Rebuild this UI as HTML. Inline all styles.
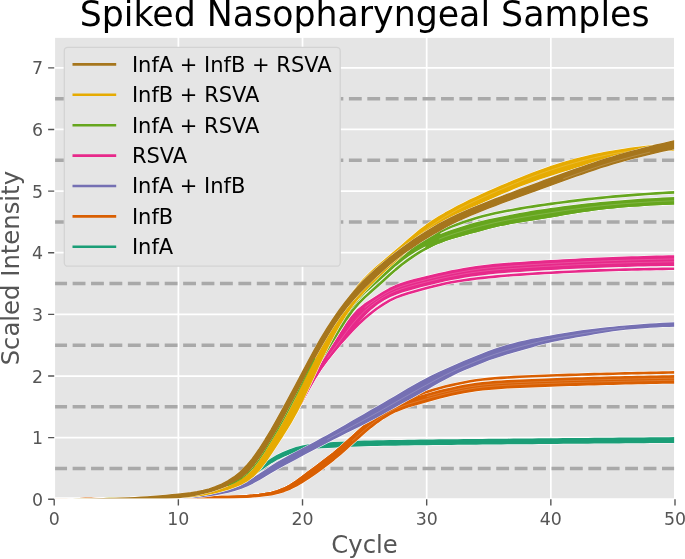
<!DOCTYPE html>
<html lang="en"><head><meta charset="utf-8"><title>Spiked Nasopharyngeal Samples</title>
<style>html,body{margin:0;padding:0;background:#fff}svg{display:block}</style></head>
<body>
<svg width="685" height="559" viewBox="0 0 685 559" font-family="'DejaVu Sans', 'Liberation Sans', sans-serif">
<rect width="685" height="559" fill="#fff"/>
<rect x="54.2" y="37.0" width="620.8" height="462.3" fill="#e5e5e5"/>
<defs><clipPath id="ax"><rect x="54.2" y="37.0" width="620.8" height="462.3"/></clipPath></defs>
<path d="M54.20,37.0V499.3M178.36,37.0V499.3M302.52,37.0V499.3M426.68,37.0V499.3M550.84,37.0V499.3M675.00,37.0V499.3M54.2,499.30H675.0M54.2,437.66H675.0M54.2,376.02H675.0M54.2,314.38H675.0M54.2,252.74H675.0M54.2,191.10H675.0M54.2,129.46H675.0M54.2,67.82H675.0" stroke="#fff" stroke-width="1.74" fill="none" clip-path="url(#ax)"/>
<path d="M54.2,468.48H675.0M54.2,406.84H675.0M54.2,345.20H675.0M54.2,283.56H675.0M54.2,221.92H675.0M54.2,160.28H675.0M54.2,98.64H675.0" stroke="#a9a9a9" stroke-width="3.475" stroke-dasharray="12.858 5.560" fill="none" clip-path="url(#ax)"/>
<g clip-path="url(#ax)" fill="none" stroke-linejoin="round">
<g stroke="#fff" stroke-width="3.5" fill="none">
<polygon fill="#fff" points="54.20,500.53 60.41,500.49 66.62,500.40 72.82,500.26 79.03,500.09 85.24,499.89 91.45,499.69 97.66,499.48 103.86,499.29 110.07,499.12 116.28,498.95 122.49,498.80 128.70,498.64 134.90,498.48 141.11,498.28 147.32,498.06 153.53,497.79 159.74,497.49 165.94,497.15 172.15,496.76 178.36,496.30 184.57,495.74 190.78,495.07 196.98,494.26 203.19,493.30 209.40,492.17 215.61,490.82 221.82,489.22 228.02,487.30 234.23,484.98 240.44,482.17 246.65,478.78 252.86,474.83 259.06,470.45 265.27,465.96 271.48,461.76 277.69,458.20 283.90,455.32 290.10,452.98 296.31,451.03 302.52,449.45 308.73,448.31 314.94,447.56 321.14,447.07 327.35,446.71 333.56,446.36 339.77,446.01 345.98,445.66 352.18,445.36 358.39,445.12 364.60,444.94 370.81,444.79 377.02,444.66 383.22,444.54 389.43,444.44 395.64,444.34 401.85,444.25 408.06,444.15 414.26,444.06 420.47,443.97 426.68,443.88 432.89,443.81 439.10,443.73 445.30,443.66 451.51,443.60 457.72,443.53 463.93,443.47 470.14,443.41 476.34,443.35 482.55,443.29 488.76,443.23 494.97,443.18 501.18,443.12 507.38,443.07 513.59,443.01 519.80,442.96 526.01,442.90 532.22,442.85 538.42,442.79 544.63,442.74 550.84,442.68 557.05,442.63 563.26,442.57 569.46,442.51 575.67,442.46 581.88,442.40 588.09,442.35 594.30,442.29 600.50,442.24 606.71,442.18 612.92,442.13 619.13,442.08 625.34,442.02 631.54,441.97 637.75,441.92 643.96,441.86 650.17,441.81 656.38,441.76 662.58,441.71 668.79,441.65 675.00,441.60 675.00,438.40 668.79,438.46 662.58,438.51 656.38,438.57 650.17,438.62 643.96,438.68 637.75,438.73 631.54,438.79 625.34,438.84 619.13,438.90 612.92,438.96 606.71,439.01 600.50,439.07 594.30,439.13 588.09,439.19 581.88,439.25 575.67,439.30 569.46,439.36 563.26,439.42 557.05,439.48 550.84,439.54 544.63,439.60 538.42,439.66 532.22,439.72 526.01,439.77 519.80,439.83 513.59,439.89 507.38,439.95 501.18,440.00 494.97,440.06 488.76,440.12 482.55,440.18 476.34,440.24 470.14,440.30 463.93,440.37 457.72,440.44 451.51,440.50 445.30,440.57 439.10,440.65 432.89,440.73 426.68,440.81 420.47,440.90 414.26,440.99 408.06,441.09 401.85,441.19 395.64,441.29 389.43,441.40 383.22,441.51 377.02,441.63 370.81,441.76 364.60,441.92 358.39,442.12 352.18,442.37 345.98,442.68 339.77,443.05 333.56,443.42 327.35,443.79 321.14,444.18 314.94,444.69 308.73,445.48 302.52,446.69 296.31,448.35 290.10,450.41 283.90,452.88 277.69,455.91 271.48,459.68 265.27,464.11 259.06,468.85 252.86,473.48 246.65,477.65 240.44,481.21 234.23,484.18 228.02,486.63 221.82,488.66 215.61,490.35 209.40,491.77 203.19,492.97 196.98,493.98 190.78,494.83 184.57,495.54 178.36,496.13 172.15,496.62 165.94,497.03 159.74,497.39 153.53,497.71 147.32,497.99 141.11,498.23 134.90,498.43 128.70,498.60 122.49,498.77 116.28,498.92 110.07,499.09 103.86,499.27 97.66,499.47 91.45,499.67 85.24,499.88 79.03,500.08 72.82,500.26 66.62,500.40 60.41,500.49 54.20,500.53"/>
</g>
<g stroke="#1b9e77" stroke-width="2.61" fill="none">
<polygon fill="#1b9e77" points="54.20,500.53 60.41,500.49 66.62,500.40 72.82,500.26 79.03,500.09 85.24,499.89 91.45,499.69 97.66,499.48 103.86,499.29 110.07,499.12 116.28,498.95 122.49,498.80 128.70,498.64 134.90,498.48 141.11,498.28 147.32,498.06 153.53,497.79 159.74,497.49 165.94,497.15 172.15,496.76 178.36,496.30 184.57,495.74 190.78,495.07 196.98,494.26 203.19,493.30 209.40,492.17 215.61,490.82 221.82,489.22 228.02,487.30 234.23,484.98 240.44,482.17 246.65,478.78 252.86,474.83 259.06,470.45 265.27,465.96 271.48,461.76 277.69,458.20 283.90,455.32 290.10,452.98 296.31,451.03 302.52,449.45 308.73,448.31 314.94,447.56 321.14,447.07 327.35,446.71 333.56,446.36 339.77,446.01 345.98,445.66 352.18,445.36 358.39,445.12 364.60,444.94 370.81,444.79 377.02,444.66 383.22,444.54 389.43,444.44 395.64,444.34 401.85,444.25 408.06,444.15 414.26,444.06 420.47,443.97 426.68,443.88 432.89,443.81 439.10,443.73 445.30,443.66 451.51,443.60 457.72,443.53 463.93,443.47 470.14,443.41 476.34,443.35 482.55,443.29 488.76,443.23 494.97,443.18 501.18,443.12 507.38,443.07 513.59,443.01 519.80,442.96 526.01,442.90 532.22,442.85 538.42,442.79 544.63,442.74 550.84,442.68 557.05,442.63 563.26,442.57 569.46,442.51 575.67,442.46 581.88,442.40 588.09,442.35 594.30,442.29 600.50,442.24 606.71,442.18 612.92,442.13 619.13,442.08 625.34,442.02 631.54,441.97 637.75,441.92 643.96,441.86 650.17,441.81 656.38,441.76 662.58,441.71 668.79,441.65 675.00,441.60 675.00,438.40 668.79,438.46 662.58,438.51 656.38,438.57 650.17,438.62 643.96,438.68 637.75,438.73 631.54,438.79 625.34,438.84 619.13,438.90 612.92,438.96 606.71,439.01 600.50,439.07 594.30,439.13 588.09,439.19 581.88,439.25 575.67,439.30 569.46,439.36 563.26,439.42 557.05,439.48 550.84,439.54 544.63,439.60 538.42,439.66 532.22,439.72 526.01,439.77 519.80,439.83 513.59,439.89 507.38,439.95 501.18,440.00 494.97,440.06 488.76,440.12 482.55,440.18 476.34,440.24 470.14,440.30 463.93,440.37 457.72,440.44 451.51,440.50 445.30,440.57 439.10,440.65 432.89,440.73 426.68,440.81 420.47,440.90 414.26,440.99 408.06,441.09 401.85,441.19 395.64,441.29 389.43,441.40 383.22,441.51 377.02,441.63 370.81,441.76 364.60,441.92 358.39,442.12 352.18,442.37 345.98,442.68 339.77,443.05 333.56,443.42 327.35,443.79 321.14,444.18 314.94,444.69 308.73,445.48 302.52,446.69 296.31,448.35 290.10,450.41 283.90,452.88 277.69,455.91 271.48,459.68 265.27,464.11 259.06,468.85 252.86,473.48 246.65,477.65 240.44,481.21 234.23,484.18 228.02,486.63 221.82,488.66 215.61,490.35 209.40,491.77 203.19,492.97 196.98,493.98 190.78,494.83 184.57,495.54 178.36,496.13 172.15,496.62 165.94,497.03 159.74,497.39 153.53,497.71 147.32,497.99 141.11,498.23 134.90,498.43 128.70,498.60 122.49,498.77 116.28,498.92 110.07,499.09 103.86,499.27 97.66,499.47 91.45,499.67 85.24,499.88 79.03,500.08 72.82,500.26 66.62,500.40 60.41,500.49 54.20,500.53"/>
</g>
<g stroke="#fff" stroke-width="3.5" fill="none">
<polyline points="54.20,499.29 60.41,499.28 66.62,499.27 72.82,499.24 79.03,499.20 85.24,499.16 91.45,499.11 97.66,499.05 103.86,498.99 110.07,498.92 116.28,498.84 122.49,498.75 128.70,498.65 134.90,498.51 141.11,498.35 147.32,498.16 153.53,497.95 159.74,497.76 165.94,497.59 172.15,497.46 178.36,497.37 184.57,497.31 190.78,497.28 196.98,497.26 203.19,497.24 209.40,497.22 215.61,497.20 221.82,497.15 228.02,497.06 234.23,496.89 240.44,496.60 246.65,496.19 252.86,495.66 259.06,494.99 265.27,494.13 271.48,492.95 277.69,491.25 283.90,488.84 290.10,485.58 296.31,481.55 302.52,477.04 308.73,472.39 314.94,467.76 321.14,463.13 327.35,458.38 333.56,453.43 339.77,448.21 345.98,442.75 352.18,437.13 358.39,431.51 364.60,426.05 370.81,420.89 377.02,416.11 383.22,411.76 389.43,407.87 395.64,404.46 401.85,401.47 408.06,398.79 414.26,396.31 420.47,394.00 426.68,391.88 432.89,389.96 439.10,388.21 445.30,386.60 451.51,385.11 457.72,383.72 463.93,382.45 470.14,381.30 476.34,380.31 482.55,379.49 488.76,378.83 494.97,378.30 501.18,377.86 507.38,377.47 513.59,377.13 519.80,376.81 526.01,376.53 532.22,376.26 538.42,376.01 544.63,375.76 550.84,375.53 557.05,375.31 563.26,375.09 569.46,374.89 575.67,374.70 581.88,374.51 588.09,374.33 594.30,374.16 600.50,374.00 606.71,373.83 612.92,373.68 619.13,373.52 625.34,373.38 631.54,373.23 637.75,373.09 643.96,372.96 650.17,372.83 656.38,372.71 662.58,372.59 668.79,372.48 675.00,372.37"/>
<polygon fill="#fff" points="54.20,499.29 60.41,499.28 66.62,499.27 72.82,499.24 79.03,499.21 85.24,499.17 91.45,499.13 97.66,499.07 103.86,499.02 110.07,498.95 116.28,498.88 122.49,498.81 128.70,498.71 134.90,498.59 141.11,498.43 147.32,498.26 153.53,498.07 159.74,497.89 165.94,497.73 172.15,497.62 178.36,497.54 184.57,497.51 190.78,497.50 196.98,497.49 203.19,497.50 209.40,497.50 215.61,497.50 221.82,497.48 228.02,497.43 234.23,497.30 240.44,497.07 246.65,496.74 252.86,496.31 259.06,495.77 265.27,495.07 271.48,494.11 277.69,492.77 283.90,490.90 290.10,488.43 296.31,485.34 302.52,481.72 308.73,477.71 314.94,473.43 321.14,468.96 327.35,464.28 333.56,459.36 339.77,454.16 345.98,448.70 352.18,443.08 358.39,437.46 364.60,431.99 370.81,426.84 377.02,422.08 383.22,417.79 389.43,414.06 395.64,410.95 401.85,408.43 408.06,406.33 414.26,404.45 420.47,402.64 426.68,400.89 432.89,399.19 439.10,397.57 445.30,396.04 451.51,394.60 457.72,393.28 463.93,392.06 470.14,390.97 476.34,390.03 482.55,389.25 488.76,388.62 494.97,388.11 501.18,387.69 507.38,387.31 513.59,386.98 519.80,386.68 526.01,386.41 532.22,386.15 538.42,385.90 544.63,385.66 550.84,385.43 557.05,385.21 563.26,385.00 569.46,384.81 575.67,384.62 581.88,384.43 588.09,384.26 594.30,384.09 600.50,383.93 606.71,383.77 612.92,383.62 619.13,383.47 625.34,383.32 631.54,383.18 637.75,383.04 643.96,382.91 650.17,382.78 656.38,382.66 662.58,382.54 668.79,382.43 675.00,382.32 675.00,376.37 668.79,376.48 662.58,376.60 656.38,376.71 650.17,376.84 643.96,376.96 637.75,377.09 631.54,377.23 625.34,377.37 619.13,377.52 612.92,377.67 606.71,377.82 600.50,377.98 594.30,378.14 588.09,378.31 581.88,378.49 575.67,378.67 569.46,378.86 563.26,379.06 557.05,379.26 550.84,379.48 544.63,379.71 538.42,379.95 532.22,380.20 526.01,380.46 519.80,380.73 513.59,381.03 507.38,381.37 501.18,381.74 494.97,382.17 488.76,382.68 482.55,383.30 476.34,384.08 470.14,385.02 463.93,386.12 457.72,387.33 451.51,388.66 445.30,390.09 439.10,391.62 432.89,393.24 426.68,394.94 420.47,396.70 414.26,398.50 408.06,400.38 401.85,402.48 395.64,405.00 389.43,408.11 383.22,411.85 377.02,416.13 370.81,420.89 364.60,426.05 358.39,431.51 352.18,437.13 345.98,442.75 339.77,448.21 333.56,453.43 327.35,458.38 321.14,463.13 314.94,467.76 308.73,472.39 302.52,477.04 296.31,481.55 290.10,485.58 283.90,488.84 277.69,491.25 271.48,492.95 265.27,494.13 259.06,494.99 252.86,495.66 246.65,496.19 240.44,496.60 234.23,496.89 228.02,497.06 221.82,497.15 215.61,497.20 209.40,497.22 203.19,497.24 196.98,497.26 190.78,497.28 184.57,497.31 178.36,497.37 172.15,497.46 165.94,497.59 159.74,497.76 153.53,497.95 147.32,498.16 141.11,498.35 134.90,498.51 128.70,498.65 122.49,498.75 116.28,498.84 110.07,498.92 103.86,498.99 97.66,499.05 91.45,499.11 85.24,499.16 79.03,499.20 72.82,499.24 66.62,499.27 60.41,499.28 54.20,499.29"/>
</g>
<g stroke="#d95f02" stroke-width="2.61" fill="none">
<polyline points="54.20,499.29 60.41,499.28 66.62,499.27 72.82,499.24 79.03,499.20 85.24,499.16 91.45,499.11 97.66,499.05 103.86,498.99 110.07,498.92 116.28,498.84 122.49,498.75 128.70,498.65 134.90,498.51 141.11,498.35 147.32,498.16 153.53,497.95 159.74,497.76 165.94,497.59 172.15,497.46 178.36,497.37 184.57,497.31 190.78,497.28 196.98,497.26 203.19,497.24 209.40,497.22 215.61,497.20 221.82,497.15 228.02,497.06 234.23,496.89 240.44,496.60 246.65,496.19 252.86,495.66 259.06,494.99 265.27,494.13 271.48,492.95 277.69,491.25 283.90,488.84 290.10,485.58 296.31,481.55 302.52,477.04 308.73,472.39 314.94,467.76 321.14,463.13 327.35,458.38 333.56,453.43 339.77,448.21 345.98,442.75 352.18,437.13 358.39,431.51 364.60,426.05 370.81,420.89 377.02,416.11 383.22,411.76 389.43,407.87 395.64,404.46 401.85,401.47 408.06,398.79 414.26,396.31 420.47,394.00 426.68,391.88 432.89,389.96 439.10,388.21 445.30,386.60 451.51,385.11 457.72,383.72 463.93,382.45 470.14,381.30 476.34,380.31 482.55,379.49 488.76,378.83 494.97,378.30 501.18,377.86 507.38,377.47 513.59,377.13 519.80,376.81 526.01,376.53 532.22,376.26 538.42,376.01 544.63,375.76 550.84,375.53 557.05,375.31 563.26,375.09 569.46,374.89 575.67,374.70 581.88,374.51 588.09,374.33 594.30,374.16 600.50,374.00 606.71,373.83 612.92,373.68 619.13,373.52 625.34,373.38 631.54,373.23 637.75,373.09 643.96,372.96 650.17,372.83 656.38,372.71 662.58,372.59 668.79,372.48 675.00,372.37"/>
<polygon fill="#d95f02" points="54.20,499.29 60.41,499.28 66.62,499.27 72.82,499.24 79.03,499.21 85.24,499.17 91.45,499.13 97.66,499.07 103.86,499.02 110.07,498.95 116.28,498.88 122.49,498.81 128.70,498.71 134.90,498.59 141.11,498.43 147.32,498.26 153.53,498.07 159.74,497.89 165.94,497.73 172.15,497.62 178.36,497.54 184.57,497.51 190.78,497.50 196.98,497.49 203.19,497.50 209.40,497.50 215.61,497.50 221.82,497.48 228.02,497.43 234.23,497.30 240.44,497.07 246.65,496.74 252.86,496.31 259.06,495.77 265.27,495.07 271.48,494.11 277.69,492.77 283.90,490.90 290.10,488.43 296.31,485.34 302.52,481.72 308.73,477.71 314.94,473.43 321.14,468.96 327.35,464.28 333.56,459.36 339.77,454.16 345.98,448.70 352.18,443.08 358.39,437.46 364.60,431.99 370.81,426.84 377.02,422.08 383.22,417.79 389.43,414.06 395.64,410.95 401.85,408.43 408.06,406.33 414.26,404.45 420.47,402.64 426.68,400.89 432.89,399.19 439.10,397.57 445.30,396.04 451.51,394.60 457.72,393.28 463.93,392.06 470.14,390.97 476.34,390.03 482.55,389.25 488.76,388.62 494.97,388.11 501.18,387.69 507.38,387.31 513.59,386.98 519.80,386.68 526.01,386.41 532.22,386.15 538.42,385.90 544.63,385.66 550.84,385.43 557.05,385.21 563.26,385.00 569.46,384.81 575.67,384.62 581.88,384.43 588.09,384.26 594.30,384.09 600.50,383.93 606.71,383.77 612.92,383.62 619.13,383.47 625.34,383.32 631.54,383.18 637.75,383.04 643.96,382.91 650.17,382.78 656.38,382.66 662.58,382.54 668.79,382.43 675.00,382.32 675.00,376.37 668.79,376.48 662.58,376.60 656.38,376.71 650.17,376.84 643.96,376.96 637.75,377.09 631.54,377.23 625.34,377.37 619.13,377.52 612.92,377.67 606.71,377.82 600.50,377.98 594.30,378.14 588.09,378.31 581.88,378.49 575.67,378.67 569.46,378.86 563.26,379.06 557.05,379.26 550.84,379.48 544.63,379.71 538.42,379.95 532.22,380.20 526.01,380.46 519.80,380.73 513.59,381.03 507.38,381.37 501.18,381.74 494.97,382.17 488.76,382.68 482.55,383.30 476.34,384.08 470.14,385.02 463.93,386.12 457.72,387.33 451.51,388.66 445.30,390.09 439.10,391.62 432.89,393.24 426.68,394.94 420.47,396.70 414.26,398.50 408.06,400.38 401.85,402.48 395.64,405.00 389.43,408.11 383.22,411.85 377.02,416.13 370.81,420.89 364.60,426.05 358.39,431.51 352.18,437.13 345.98,442.75 339.77,448.21 333.56,453.43 327.35,458.38 321.14,463.13 314.94,467.76 308.73,472.39 302.52,477.04 296.31,481.55 290.10,485.58 283.90,488.84 277.69,491.25 271.48,492.95 265.27,494.13 259.06,494.99 252.86,495.66 246.65,496.19 240.44,496.60 234.23,496.89 228.02,497.06 221.82,497.15 215.61,497.20 209.40,497.22 203.19,497.24 196.98,497.26 190.78,497.28 184.57,497.31 178.36,497.37 172.15,497.46 165.94,497.59 159.74,497.76 153.53,497.95 147.32,498.16 141.11,498.35 134.90,498.51 128.70,498.65 122.49,498.75 116.28,498.84 110.07,498.92 103.86,498.99 97.66,499.05 91.45,499.11 85.24,499.16 79.03,499.20 72.82,499.24 66.62,499.27 60.41,499.28 54.20,499.29"/>
</g>
<polyline points="352.18,441.00 358.39,435.38 364.60,429.91 370.81,424.76 377.02,420.00 383.22,415.71 389.43,411.98 395.64,408.86 401.85,406.35 408.06,404.25 414.26,402.36 420.47,400.56 426.68,398.81 432.89,397.11 439.10,395.49 445.30,393.95 451.51,392.52 457.72,391.20 463.93,389.98 470.14,388.89 476.34,387.95 482.55,387.17 488.76,386.54 494.97,386.03 501.18,385.60 507.38,385.23 513.59,384.90 519.80,384.60 526.01,384.32 532.22,384.06 538.42,383.82 544.63,383.58 550.84,383.35 557.05,383.13 563.26,382.92 569.46,382.72 575.67,382.53 581.88,382.35 588.09,382.18 594.30,382.01 600.50,381.85 606.71,381.69 612.92,381.54 619.13,381.39 625.34,381.24 631.54,381.10 637.75,380.96 643.96,380.83 650.17,380.70 656.38,380.58 662.58,380.46 668.79,380.35 675.00,380.24" stroke="#fff" stroke-opacity="0.25" stroke-width="0.7"/>
<polyline points="426.68,396.72 432.89,395.03 439.10,393.40 445.30,391.87 451.51,390.44 457.72,389.12 463.93,387.90 470.14,386.81 476.34,385.87 482.55,385.09 488.76,384.46 494.97,383.95 501.18,383.52 507.38,383.15 513.59,382.82 519.80,382.52 526.01,382.24 532.22,381.98 538.42,381.73 544.63,381.50 550.84,381.27 557.05,381.05 563.26,380.84 569.46,380.64 575.67,380.45 581.88,380.27 588.09,380.10 594.30,379.93 600.50,379.77 606.71,379.61 612.92,379.45 619.13,379.30 625.34,379.16 631.54,379.02 637.75,378.88 643.96,378.75 650.17,378.62 656.38,378.50 662.58,378.38 668.79,378.27 675.00,378.16" stroke="#fff" stroke-opacity="0.25" stroke-width="0.7"/>
<g stroke="#fff" stroke-width="3.5" fill="none">
<polygon fill="#fff" points="54.20,500.53 60.41,500.50 66.62,500.41 72.82,500.28 79.03,500.12 85.24,499.93 91.45,499.75 97.66,499.56 103.86,499.40 110.07,499.24 116.28,499.11 122.49,498.99 128.70,498.87 134.90,498.75 141.11,498.62 147.32,498.48 153.53,498.31 159.74,498.13 165.94,497.93 172.15,497.71 178.36,497.46 184.57,497.17 190.78,496.82 196.98,496.38 203.19,495.78 209.40,494.99 215.61,493.98 221.82,492.78 228.02,491.39 234.23,489.75 240.44,487.75 246.65,485.24 252.86,482.22 259.06,478.79 265.27,475.16 271.48,471.48 277.69,467.89 283.90,464.42 290.10,461.05 296.31,457.75 302.52,454.47 308.73,451.18 314.94,447.90 321.14,444.63 327.35,441.38 333.56,438.19 339.77,435.05 345.98,431.95 352.18,428.88 358.39,425.78 364.60,422.62 370.81,419.36 377.02,415.99 383.22,412.55 389.43,409.06 395.64,405.60 401.85,402.16 408.06,398.77 414.26,395.38 420.47,391.96 426.68,388.49 432.89,384.97 439.10,381.44 445.30,378.00 451.51,374.77 457.72,371.80 463.93,369.05 470.14,366.45 476.34,363.92 482.55,361.45 488.76,359.11 494.97,356.94 501.18,354.95 507.38,353.08 513.59,351.29 519.80,349.51 526.01,347.71 532.22,345.89 538.42,344.11 544.63,342.44 550.84,340.93 557.05,339.61 563.26,338.44 569.46,337.36 575.67,336.31 581.88,335.23 588.09,334.12 594.30,332.98 600.50,331.88 606.71,330.87 612.92,329.97 619.13,329.20 625.34,328.53 631.54,327.93 637.75,327.38 643.96,326.88 650.17,326.44 656.38,326.08 662.58,325.79 668.79,325.58 675.00,325.41 675.00,323.44 668.79,323.77 662.58,324.12 656.38,324.50 650.17,324.91 643.96,325.36 637.75,325.83 631.54,326.33 625.34,326.85 619.13,327.40 612.92,327.99 606.71,328.61 600.50,329.29 594.30,330.01 588.09,330.79 581.88,331.63 575.67,332.53 569.46,333.50 563.26,334.53 557.05,335.60 550.84,336.68 544.63,337.78 538.42,338.92 532.22,340.11 526.01,341.41 519.80,342.83 513.59,344.40 507.38,346.10 501.18,347.96 494.97,349.98 488.76,352.20 482.55,354.60 476.34,357.13 470.14,359.71 463.93,362.31 457.72,364.94 451.51,367.61 445.30,370.35 439.10,373.20 432.89,376.17 426.68,379.31 420.47,382.63 414.26,386.12 408.06,389.72 401.85,393.37 395.64,397.03 389.43,400.66 383.22,404.28 377.02,407.87 370.81,411.47 364.60,415.06 358.39,418.65 352.18,422.24 345.98,425.80 339.77,429.33 333.56,432.83 327.35,436.29 321.14,439.71 314.94,443.09 308.73,446.42 302.52,449.70 296.31,452.93 290.10,456.17 283.90,459.53 277.69,463.16 271.48,467.10 265.27,471.27 259.06,475.43 252.86,479.31 246.65,482.66 240.44,485.40 234.23,487.61 228.02,489.46 221.82,491.09 215.61,492.56 209.40,493.86 203.19,494.94 196.98,495.82 190.78,496.51 184.57,497.04 178.36,497.45 172.15,497.76 165.94,498.00 159.74,498.20 153.53,498.37 147.32,498.52 141.11,498.65 134.90,498.76 128.70,498.87 122.49,498.98 116.28,499.10 110.07,499.24 103.86,499.39 97.66,499.56 91.45,499.74 85.24,499.93 79.03,500.12 72.82,500.28 66.62,500.41 60.41,500.49 54.20,500.53"/>
</g>
<g stroke="#7570b3" stroke-width="2.61" fill="none">
<polygon fill="#7570b3" points="54.20,500.53 60.41,500.50 66.62,500.41 72.82,500.28 79.03,500.12 85.24,499.93 91.45,499.75 97.66,499.56 103.86,499.40 110.07,499.24 116.28,499.11 122.49,498.99 128.70,498.87 134.90,498.75 141.11,498.62 147.32,498.48 153.53,498.31 159.74,498.13 165.94,497.93 172.15,497.71 178.36,497.46 184.57,497.17 190.78,496.82 196.98,496.38 203.19,495.78 209.40,494.99 215.61,493.98 221.82,492.78 228.02,491.39 234.23,489.75 240.44,487.75 246.65,485.24 252.86,482.22 259.06,478.79 265.27,475.16 271.48,471.48 277.69,467.89 283.90,464.42 290.10,461.05 296.31,457.75 302.52,454.47 308.73,451.18 314.94,447.90 321.14,444.63 327.35,441.38 333.56,438.19 339.77,435.05 345.98,431.95 352.18,428.88 358.39,425.78 364.60,422.62 370.81,419.36 377.02,415.99 383.22,412.55 389.43,409.06 395.64,405.60 401.85,402.16 408.06,398.77 414.26,395.38 420.47,391.96 426.68,388.49 432.89,384.97 439.10,381.44 445.30,378.00 451.51,374.77 457.72,371.80 463.93,369.05 470.14,366.45 476.34,363.92 482.55,361.45 488.76,359.11 494.97,356.94 501.18,354.95 507.38,353.08 513.59,351.29 519.80,349.51 526.01,347.71 532.22,345.89 538.42,344.11 544.63,342.44 550.84,340.93 557.05,339.61 563.26,338.44 569.46,337.36 575.67,336.31 581.88,335.23 588.09,334.12 594.30,332.98 600.50,331.88 606.71,330.87 612.92,329.97 619.13,329.20 625.34,328.53 631.54,327.93 637.75,327.38 643.96,326.88 650.17,326.44 656.38,326.08 662.58,325.79 668.79,325.58 675.00,325.41 675.00,323.44 668.79,323.77 662.58,324.12 656.38,324.50 650.17,324.91 643.96,325.36 637.75,325.83 631.54,326.33 625.34,326.85 619.13,327.40 612.92,327.99 606.71,328.61 600.50,329.29 594.30,330.01 588.09,330.79 581.88,331.63 575.67,332.53 569.46,333.50 563.26,334.53 557.05,335.60 550.84,336.68 544.63,337.78 538.42,338.92 532.22,340.11 526.01,341.41 519.80,342.83 513.59,344.40 507.38,346.10 501.18,347.96 494.97,349.98 488.76,352.20 482.55,354.60 476.34,357.13 470.14,359.71 463.93,362.31 457.72,364.94 451.51,367.61 445.30,370.35 439.10,373.20 432.89,376.17 426.68,379.31 420.47,382.63 414.26,386.12 408.06,389.72 401.85,393.37 395.64,397.03 389.43,400.66 383.22,404.28 377.02,407.87 370.81,411.47 364.60,415.06 358.39,418.65 352.18,422.24 345.98,425.80 339.77,429.33 333.56,432.83 327.35,436.29 321.14,439.71 314.94,443.09 308.73,446.42 302.52,449.70 296.31,452.93 290.10,456.17 283.90,459.53 277.69,463.16 271.48,467.10 265.27,471.27 259.06,475.43 252.86,479.31 246.65,482.66 240.44,485.40 234.23,487.61 228.02,489.46 221.82,491.09 215.61,492.56 209.40,493.86 203.19,494.94 196.98,495.82 190.78,496.51 184.57,497.04 178.36,497.45 172.15,497.76 165.94,498.00 159.74,498.20 153.53,498.37 147.32,498.52 141.11,498.65 134.90,498.76 128.70,498.87 122.49,498.98 116.28,499.10 110.07,499.24 103.86,499.39 97.66,499.56 91.45,499.74 85.24,499.93 79.03,500.12 72.82,500.28 66.62,500.41 60.41,500.49 54.20,500.53"/>
</g>
<polyline points="327.35,439.35 333.56,436.04 339.77,432.76 345.98,429.49 352.18,426.22 358.39,422.93 364.60,419.60 370.81,416.20 377.02,412.75 383.22,409.24 389.43,405.70 395.64,402.17 401.85,398.65 408.06,395.15 414.26,391.67 420.47,388.23 426.68,384.82 432.89,381.45 439.10,378.14 445.30,374.94 451.51,371.90 457.72,369.05 463.93,366.36 470.14,363.75 476.34,361.20 482.55,358.71 488.76,356.35 494.97,354.16 501.18,352.15 507.38,350.29 513.59,348.53 519.80,346.84 526.01,345.19 532.22,343.58 538.42,342.03 544.63,340.58 550.84,339.23 557.05,338.00 563.26,336.88 569.46,335.82 575.67,334.80 581.88,333.79 588.09,332.79 594.30,331.80 600.50,330.84 606.71,329.97 612.92,329.18 619.13,328.48 625.34,327.86" stroke="#fff" stroke-opacity="0.25" stroke-width="0.7"/>
<g stroke="#fff" stroke-width="3.5" fill="none">
<polyline points="54.20,500.53 60.41,500.49 66.62,500.40 72.82,500.27 79.03,500.10 85.24,499.91 91.45,499.71 97.66,499.52 103.86,499.34 110.07,499.17 116.28,499.02 122.49,498.88 128.70,498.75 134.90,498.61 141.11,498.45 147.32,498.27 153.53,498.06 159.74,497.82 165.94,497.54 172.15,497.22 178.36,496.84 184.57,496.37 190.78,495.77 196.98,495.02 203.19,494.05 209.40,492.82 215.61,491.30 221.82,489.53 228.02,487.55 234.23,485.33 240.44,482.69 246.65,479.19 252.86,474.20 259.06,467.30 265.27,458.77 271.48,449.56 277.69,440.44 283.90,431.40 290.10,421.94 296.31,411.52 302.52,400.12 308.73,388.38 314.94,377.31 321.14,367.54 327.35,359.07 333.56,351.46 339.77,344.27 345.98,337.30 352.18,330.58 358.39,324.25 364.60,318.47 370.81,313.26 377.02,308.54 383.22,304.30 389.43,300.63 395.64,297.63 401.85,295.21 408.06,293.20 414.26,291.41 420.47,289.72 426.68,288.06 432.89,286.44 439.10,284.90 445.30,283.51 451.51,282.28 457.72,281.19 463.93,280.22 470.14,279.34 476.34,278.55 482.55,277.84 488.76,277.19 494.97,276.60 501.18,276.05 507.38,275.54 513.59,275.06 519.80,274.62 526.01,274.20 532.22,273.80 538.42,273.42 544.63,273.06 550.84,272.71 557.05,272.37 563.26,272.05 569.46,271.73 575.67,271.43 581.88,271.15 588.09,270.88 594.30,270.63 600.50,270.40 606.71,270.19 612.92,270.00 619.13,269.82 625.34,269.65 631.54,269.50 637.75,269.35 643.96,269.21 650.17,269.08 656.38,268.97 662.58,268.87 668.79,268.78 675.00,268.70"/>
<polygon fill="#fff" points="54.20,500.53 60.41,500.49 66.62,500.40 72.82,500.27 79.03,500.10 85.24,499.91 91.45,499.71 97.66,499.52 103.86,499.34 110.07,499.17 116.28,499.02 122.49,498.88 128.70,498.75 134.90,498.61 141.11,498.45 147.32,498.27 153.53,498.06 159.74,497.82 165.94,497.54 172.15,497.22 178.36,496.84 184.57,496.37 190.78,495.77 196.98,495.02 203.19,494.05 209.40,492.82 215.61,491.30 221.82,489.53 228.02,487.55 234.23,485.33 240.44,482.69 246.65,479.19 252.86,474.20 259.06,467.30 265.27,458.77 271.48,449.56 277.69,440.44 283.90,431.41 290.10,421.93 296.31,411.50 302.52,400.09 308.73,388.39 314.94,377.44 321.14,367.85 327.35,359.50 333.56,351.78 339.77,344.12 345.98,336.30 352.18,328.49 358.39,321.04 364.60,314.28 370.81,308.40 377.02,303.44 383.22,299.38 389.43,296.12 395.64,293.48 401.85,291.29 408.06,289.38 414.26,287.64 420.47,285.99 426.68,284.40 432.89,282.86 439.10,281.40 445.30,280.04 451.51,278.78 457.72,277.60 463.93,276.51 470.14,275.52 476.34,274.63 482.55,273.85 488.76,273.16 494.97,272.54 501.18,271.99 507.38,271.49 513.59,271.02 519.80,270.58 526.01,270.17 532.22,269.79 538.42,269.41 544.63,269.06 550.84,268.71 557.05,268.37 563.26,268.05 569.46,267.74 575.67,267.44 581.88,267.15 588.09,266.89 594.30,266.64 600.50,266.40 606.71,266.19 612.92,265.99 619.13,265.81 625.34,265.64 631.54,265.47 637.75,265.32 643.96,265.18 650.17,265.05 656.38,264.93 662.58,264.82 668.79,264.72 675.00,264.64 675.00,256.44 668.79,256.58 662.58,256.73 656.38,256.89 650.17,257.06 643.96,257.24 637.75,257.43 631.54,257.63 625.34,257.84 619.13,258.06 612.92,258.29 606.71,258.53 600.50,258.78 594.30,259.05 588.09,259.33 581.88,259.63 575.67,259.94 569.46,260.26 563.26,260.59 557.05,260.93 550.84,261.29 544.63,261.65 538.42,262.02 532.22,262.40 526.01,262.79 519.80,263.20 513.59,263.62 507.38,264.08 501.18,264.58 494.97,265.13 488.76,265.75 482.55,266.46 476.34,267.27 470.14,268.21 463.93,269.27 457.72,270.42 451.51,271.65 445.30,272.95 439.10,274.33 432.89,275.78 426.68,277.28 420.47,278.81 414.26,280.38 408.06,282.06 401.85,283.99 395.64,286.34 389.43,289.29 383.22,292.86 377.02,296.77 370.81,300.74 364.60,304.91 358.39,309.99 352.18,316.81 345.98,325.57 339.77,335.46 333.56,345.17 327.35,353.90 321.14,361.93 314.94,370.31 308.73,380.08 302.52,391.44 296.31,403.52 290.10,415.19 283.90,425.89 277.69,435.93 271.48,445.93 265.27,456.01 259.06,465.46 252.86,473.20 246.65,478.78 240.44,482.58 234.23,485.34 228.02,487.57 221.82,489.55 215.61,491.31 209.40,492.82 203.19,494.05 196.98,495.01 190.78,495.77 184.57,496.36 178.36,496.84 172.15,497.22 165.94,497.54 159.74,497.82 153.53,498.06 147.32,498.27 141.11,498.45 134.90,498.61 128.70,498.75 122.49,498.88 116.28,499.02 110.07,499.17 103.86,499.34 97.66,499.52 91.45,499.71 85.24,499.91 79.03,500.10 72.82,500.27 66.62,500.40 60.41,500.49 54.20,500.53"/>
</g>
<g stroke="#e7298a" stroke-width="2.61" fill="none">
<polyline points="54.20,500.53 60.41,500.49 66.62,500.40 72.82,500.27 79.03,500.10 85.24,499.91 91.45,499.71 97.66,499.52 103.86,499.34 110.07,499.17 116.28,499.02 122.49,498.88 128.70,498.75 134.90,498.61 141.11,498.45 147.32,498.27 153.53,498.06 159.74,497.82 165.94,497.54 172.15,497.22 178.36,496.84 184.57,496.37 190.78,495.77 196.98,495.02 203.19,494.05 209.40,492.82 215.61,491.30 221.82,489.53 228.02,487.55 234.23,485.33 240.44,482.69 246.65,479.19 252.86,474.20 259.06,467.30 265.27,458.77 271.48,449.56 277.69,440.44 283.90,431.40 290.10,421.94 296.31,411.52 302.52,400.12 308.73,388.38 314.94,377.31 321.14,367.54 327.35,359.07 333.56,351.46 339.77,344.27 345.98,337.30 352.18,330.58 358.39,324.25 364.60,318.47 370.81,313.26 377.02,308.54 383.22,304.30 389.43,300.63 395.64,297.63 401.85,295.21 408.06,293.20 414.26,291.41 420.47,289.72 426.68,288.06 432.89,286.44 439.10,284.90 445.30,283.51 451.51,282.28 457.72,281.19 463.93,280.22 470.14,279.34 476.34,278.55 482.55,277.84 488.76,277.19 494.97,276.60 501.18,276.05 507.38,275.54 513.59,275.06 519.80,274.62 526.01,274.20 532.22,273.80 538.42,273.42 544.63,273.06 550.84,272.71 557.05,272.37 563.26,272.05 569.46,271.73 575.67,271.43 581.88,271.15 588.09,270.88 594.30,270.63 600.50,270.40 606.71,270.19 612.92,270.00 619.13,269.82 625.34,269.65 631.54,269.50 637.75,269.35 643.96,269.21 650.17,269.08 656.38,268.97 662.58,268.87 668.79,268.78 675.00,268.70"/>
<polygon fill="#e7298a" points="54.20,500.53 60.41,500.49 66.62,500.40 72.82,500.27 79.03,500.10 85.24,499.91 91.45,499.71 97.66,499.52 103.86,499.34 110.07,499.17 116.28,499.02 122.49,498.88 128.70,498.75 134.90,498.61 141.11,498.45 147.32,498.27 153.53,498.06 159.74,497.82 165.94,497.54 172.15,497.22 178.36,496.84 184.57,496.37 190.78,495.77 196.98,495.02 203.19,494.05 209.40,492.82 215.61,491.30 221.82,489.53 228.02,487.55 234.23,485.33 240.44,482.69 246.65,479.19 252.86,474.20 259.06,467.30 265.27,458.77 271.48,449.56 277.69,440.44 283.90,431.41 290.10,421.93 296.31,411.50 302.52,400.09 308.73,388.39 314.94,377.44 321.14,367.85 327.35,359.50 333.56,351.78 339.77,344.12 345.98,336.30 352.18,328.49 358.39,321.04 364.60,314.28 370.81,308.40 377.02,303.44 383.22,299.38 389.43,296.12 395.64,293.48 401.85,291.29 408.06,289.38 414.26,287.64 420.47,285.99 426.68,284.40 432.89,282.86 439.10,281.40 445.30,280.04 451.51,278.78 457.72,277.60 463.93,276.51 470.14,275.52 476.34,274.63 482.55,273.85 488.76,273.16 494.97,272.54 501.18,271.99 507.38,271.49 513.59,271.02 519.80,270.58 526.01,270.17 532.22,269.79 538.42,269.41 544.63,269.06 550.84,268.71 557.05,268.37 563.26,268.05 569.46,267.74 575.67,267.44 581.88,267.15 588.09,266.89 594.30,266.64 600.50,266.40 606.71,266.19 612.92,265.99 619.13,265.81 625.34,265.64 631.54,265.47 637.75,265.32 643.96,265.18 650.17,265.05 656.38,264.93 662.58,264.82 668.79,264.72 675.00,264.64 675.00,256.44 668.79,256.58 662.58,256.73 656.38,256.89 650.17,257.06 643.96,257.24 637.75,257.43 631.54,257.63 625.34,257.84 619.13,258.06 612.92,258.29 606.71,258.53 600.50,258.78 594.30,259.05 588.09,259.33 581.88,259.63 575.67,259.94 569.46,260.26 563.26,260.59 557.05,260.93 550.84,261.29 544.63,261.65 538.42,262.02 532.22,262.40 526.01,262.79 519.80,263.20 513.59,263.62 507.38,264.08 501.18,264.58 494.97,265.13 488.76,265.75 482.55,266.46 476.34,267.27 470.14,268.21 463.93,269.27 457.72,270.42 451.51,271.65 445.30,272.95 439.10,274.33 432.89,275.78 426.68,277.28 420.47,278.81 414.26,280.38 408.06,282.06 401.85,283.99 395.64,286.34 389.43,289.29 383.22,292.86 377.02,296.77 370.81,300.74 364.60,304.91 358.39,309.99 352.18,316.81 345.98,325.57 339.77,335.46 333.56,345.17 327.35,353.90 321.14,361.93 314.94,370.31 308.73,380.08 302.52,391.44 296.31,403.52 290.10,415.19 283.90,425.89 277.69,435.93 271.48,445.93 265.27,456.01 259.06,465.46 252.86,473.20 246.65,478.78 240.44,482.58 234.23,485.34 228.02,487.57 221.82,489.55 215.61,491.31 209.40,492.82 203.19,494.05 196.98,495.01 190.78,495.77 184.57,496.36 178.36,496.84 172.15,497.22 165.94,497.54 159.74,497.82 153.53,498.06 147.32,498.27 141.11,498.45 134.90,498.61 128.70,498.75 122.49,498.88 116.28,499.02 110.07,499.17 103.86,499.34 97.66,499.52 91.45,499.71 85.24,499.91 79.03,500.10 72.82,500.27 66.62,500.40 60.41,500.49 54.20,500.53"/>
</g>
<polyline points="327.35,357.54 333.56,349.46 339.77,341.09 345.98,332.55 352.18,324.40 358.39,317.17 364.60,311.00 370.81,305.72 377.02,301.11 383.22,297.10 389.43,293.73 395.64,290.98 401.85,288.73 408.06,286.82 414.26,285.10 420.47,283.48 426.68,281.91 432.89,280.38 439.10,278.93 445.30,277.56 451.51,276.28 457.72,275.09 463.93,273.98 470.14,272.96 476.34,272.06 482.55,271.26 488.76,270.56 494.97,269.95 501.18,269.40 507.38,268.89 513.59,268.43 519.80,268.00 526.01,267.59 532.22,267.20 538.42,266.83 544.63,266.46 550.84,266.11 557.05,265.77 563.26,265.44 569.46,265.12 575.67,264.81 581.88,264.52 588.09,264.24 594.30,263.98 600.50,263.74 606.71,263.51 612.92,263.30 619.13,263.10 625.34,262.91 631.54,262.73 637.75,262.56 643.96,262.40 650.17,262.25 656.38,262.11 662.58,261.99 668.79,261.87 675.00,261.77" stroke="#fff" stroke-opacity="0.25" stroke-width="0.7"/>
<polyline points="364.60,307.72 370.81,303.04 377.02,298.77 383.22,294.81 389.43,291.34 395.64,288.48 401.85,286.18 408.06,284.26 414.26,282.56 420.47,280.97 426.68,279.42 432.89,277.90 439.10,276.45 445.30,275.08 451.51,273.79 457.72,272.57 463.93,271.44 470.14,270.41 476.34,269.48 482.55,268.67 488.76,267.97 494.97,267.36 501.18,266.80 507.38,266.30 513.59,265.84 519.80,265.41 526.01,265.01 532.22,264.62 538.42,264.24 544.63,263.87 550.84,263.51 557.05,263.16 563.26,262.83 569.46,262.50 575.67,262.19 581.88,261.88 588.09,261.60 594.30,261.33 600.50,261.07 606.71,260.83 612.92,260.60 619.13,260.38 625.34,260.18 631.54,259.98 637.75,259.80 643.96,259.62 650.17,259.45 656.38,259.30 662.58,259.16 668.79,259.02 675.00,258.90" stroke="#fff" stroke-opacity="0.25" stroke-width="0.7"/>
<g stroke="#fff" stroke-width="3.5" fill="none">
<polyline points="54.20,500.53 60.41,500.49 66.62,500.40 72.82,500.27 79.03,500.10 85.24,499.91 91.45,499.71 97.66,499.52 103.86,499.33 110.07,499.17 116.28,499.02 122.49,498.88 128.70,498.75 134.90,498.61 141.11,498.46 147.32,498.29 153.53,498.09 159.74,497.86 165.94,497.59 172.15,497.25 178.36,496.83 184.57,496.27 190.78,495.55 196.98,494.63 203.19,493.50 209.40,492.12 215.61,490.45 221.82,488.48 228.02,486.18 234.23,483.41 240.44,479.79 246.65,474.75 252.86,467.87 259.06,459.38 265.27,450.03 271.48,440.37 277.69,430.30 283.90,419.46 290.10,407.81 296.31,395.75 302.52,383.93 308.73,372.86 314.94,362.58 321.14,352.73 327.35,342.87 333.56,332.87 339.77,322.96 345.98,313.56 352.18,305.06 358.39,297.69 364.60,291.47 370.81,286.05 377.02,280.82 383.22,275.33 389.43,269.54 395.64,263.76 401.85,258.22 408.06,253.03 414.26,248.18 420.47,243.66 426.68,239.49 432.89,235.71 439.10,232.33 445.30,229.32 451.51,226.62 457.72,224.18 463.93,221.95 470.14,219.90 476.34,218.01 482.55,216.30 488.76,214.74 494.97,213.33 501.18,212.03 507.38,210.82 513.59,209.68 519.80,208.60 526.01,207.57 532.22,206.59 538.42,205.65 544.63,204.75 550.84,203.87 557.05,203.02 563.26,202.19 569.46,201.38 575.67,200.61 581.88,199.86 588.09,199.15 594.30,198.47 600.50,197.83 606.71,197.22 612.92,196.65 619.13,196.11 625.34,195.59 631.54,195.10 637.75,194.63 643.96,194.18 650.17,193.76 656.38,193.37 662.58,193.00 668.79,192.66 675.00,192.33"/>
<polyline points="54.20,500.53 60.41,500.49 66.62,500.40 72.82,500.27 79.03,500.10 85.24,499.91 91.45,499.71 97.66,499.52 103.86,499.33 110.07,499.17 116.28,499.02 122.49,498.88 128.70,498.75 134.90,498.61 141.11,498.46 147.32,498.29 153.53,498.09 159.74,497.86 165.94,497.59 172.15,497.25 178.36,496.83 184.57,496.28 190.78,495.56 196.98,494.64 203.19,493.49 209.40,492.07 215.61,490.36 221.82,488.41 228.02,486.24 234.23,483.82 240.44,480.91 246.65,477.04 252.86,471.62 259.06,464.42 265.27,455.91 271.48,446.84 277.69,437.54 283.90,427.71 290.10,416.93 296.31,405.13 302.52,392.80 308.73,380.79 314.94,369.73 321.14,359.54 327.35,349.65 333.56,339.55 339.77,329.35 345.98,319.63 352.18,311.02 358.39,303.69 364.60,297.40 370.81,291.71 377.02,286.23 383.22,280.69 389.43,275.09 395.64,269.63 401.85,264.53 408.06,259.86 414.26,255.59 420.47,251.67 426.68,248.10 432.89,244.91 439.10,242.16 445.30,239.81 451.51,237.78 457.72,235.95 463.93,234.23 470.14,232.55 476.34,230.87 482.55,229.18 488.76,227.53 494.97,225.99 501.18,224.60 507.38,223.37 513.59,222.25 519.80,221.21 526.01,220.20 532.22,219.21 538.42,218.21 544.63,217.19 550.84,216.15 557.05,215.10 563.26,214.05 569.46,213.01 575.67,212.00 581.88,211.03 588.09,210.10 594.30,209.25 600.50,208.46 606.71,207.76 612.92,207.13 619.13,206.56 625.34,206.04 631.54,205.55 637.75,205.09 643.96,204.67 650.17,204.28 656.38,203.95 662.58,203.65 668.79,203.40 675.00,203.18"/>
<polygon fill="#fff" points="54.20,500.53 60.41,500.49 66.62,500.40 72.82,500.27 79.03,500.10 85.24,499.91 91.45,499.71 97.66,499.52 103.86,499.33 110.07,499.17 116.28,499.02 122.49,498.88 128.70,498.75 134.90,498.61 141.11,498.46 147.32,498.29 153.53,498.09 159.74,497.86 165.94,497.59 172.15,497.25 178.36,496.83 184.57,496.28 190.78,495.56 196.98,494.64 203.19,493.50 209.40,492.09 215.61,490.40 221.82,488.43 228.02,486.21 234.23,483.65 240.44,480.50 246.65,476.24 252.86,470.37 259.06,462.79 265.27,454.07 271.48,445.00 277.69,435.81 283.90,426.12 290.10,415.41 296.31,403.51 302.52,390.83 308.73,378.23 314.94,366.40 321.14,355.42 327.35,344.95 333.56,334.73 339.77,324.76 345.98,315.26 352.18,306.51 358.39,298.81 364.60,292.27 370.81,286.66 377.02,281.34 383.22,275.83 389.43,270.13 395.64,264.62 401.85,259.62 408.06,255.19 414.26,251.23 420.47,247.65 426.68,244.40 432.89,241.47 439.10,238.87 439.10,232.33 432.89,235.71 426.68,239.49 420.47,243.66 414.26,248.18 408.06,253.03 401.85,258.22 395.64,263.76 389.43,269.54 383.22,275.33 377.02,280.82 370.81,286.05 364.60,291.47 358.39,297.69 352.18,305.06 345.98,313.56 339.77,322.96 333.56,332.87 327.35,342.87 321.14,352.73 314.94,362.58 308.73,372.86 302.52,383.93 296.31,395.75 290.10,407.81 283.90,419.46 277.69,430.30 271.48,440.37 265.27,450.03 259.06,459.38 252.86,467.87 246.65,474.75 240.44,479.79 234.23,483.41 228.02,486.18 221.82,488.48 215.61,490.45 209.40,492.12 203.19,493.50 196.98,494.63 190.78,495.55 184.57,496.27 178.36,496.83 172.15,497.25 165.94,497.59 159.74,497.86 153.53,498.09 147.32,498.29 141.11,498.46 134.90,498.61 128.70,498.75 122.49,498.88 116.28,499.02 110.07,499.17 103.86,499.33 97.66,499.52 91.45,499.71 85.24,499.91 79.03,500.10 72.82,500.27 66.62,500.40 60.41,500.49 54.20,500.53"/>
<polygon fill="#fff" points="426.68,248.10 432.89,244.91 439.10,242.16 445.30,239.81 451.51,237.78 457.72,235.95 463.93,234.23 470.14,232.55 476.34,230.87 482.55,229.18 488.76,227.53 494.97,225.99 501.18,224.60 507.38,223.37 513.59,222.25 519.80,221.21 526.01,220.20 532.22,219.21 538.42,218.21 544.63,217.19 550.84,216.15 557.05,215.10 563.26,214.05 569.46,213.01 575.67,212.00 581.88,211.03 588.09,210.10 594.30,209.25 600.50,208.46 606.71,207.76 612.92,207.13 619.13,206.56 625.34,206.04 631.54,205.55 637.75,205.09 643.96,204.67 650.17,204.28 656.38,203.95 662.58,203.65 668.79,203.40 675.00,203.18 675.00,198.31 668.79,198.58 662.58,198.88 656.38,199.19 650.17,199.54 643.96,199.92 637.75,200.33 631.54,200.76 625.34,201.21 619.13,201.69 612.92,202.20 606.71,202.73 600.50,203.31 594.30,203.93 588.09,204.58 581.88,205.28 575.67,206.01 569.46,206.78 563.26,207.59 557.05,208.42 550.84,209.29 544.63,210.19 538.42,211.14 532.22,212.15 526.01,213.23 519.80,214.37 513.59,215.57 507.38,216.79 501.18,218.04 494.97,219.30 488.76,220.61 482.55,222.01 476.34,223.57 470.14,225.31 463.93,227.20 457.72,229.20 451.51,231.30 445.30,233.55 439.10,236.08 432.89,238.96 426.68,242.24"/>
</g>
<g stroke="#66a61e" stroke-width="2.61" fill="none">
<polyline points="54.20,500.53 60.41,500.49 66.62,500.40 72.82,500.27 79.03,500.10 85.24,499.91 91.45,499.71 97.66,499.52 103.86,499.33 110.07,499.17 116.28,499.02 122.49,498.88 128.70,498.75 134.90,498.61 141.11,498.46 147.32,498.29 153.53,498.09 159.74,497.86 165.94,497.59 172.15,497.25 178.36,496.83 184.57,496.27 190.78,495.55 196.98,494.63 203.19,493.50 209.40,492.12 215.61,490.45 221.82,488.48 228.02,486.18 234.23,483.41 240.44,479.79 246.65,474.75 252.86,467.87 259.06,459.38 265.27,450.03 271.48,440.37 277.69,430.30 283.90,419.46 290.10,407.81 296.31,395.75 302.52,383.93 308.73,372.86 314.94,362.58 321.14,352.73 327.35,342.87 333.56,332.87 339.77,322.96 345.98,313.56 352.18,305.06 358.39,297.69 364.60,291.47 370.81,286.05 377.02,280.82 383.22,275.33 389.43,269.54 395.64,263.76 401.85,258.22 408.06,253.03 414.26,248.18 420.47,243.66 426.68,239.49 432.89,235.71 439.10,232.33 445.30,229.32 451.51,226.62 457.72,224.18 463.93,221.95 470.14,219.90 476.34,218.01 482.55,216.30 488.76,214.74 494.97,213.33 501.18,212.03 507.38,210.82 513.59,209.68 519.80,208.60 526.01,207.57 532.22,206.59 538.42,205.65 544.63,204.75 550.84,203.87 557.05,203.02 563.26,202.19 569.46,201.38 575.67,200.61 581.88,199.86 588.09,199.15 594.30,198.47 600.50,197.83 606.71,197.22 612.92,196.65 619.13,196.11 625.34,195.59 631.54,195.10 637.75,194.63 643.96,194.18 650.17,193.76 656.38,193.37 662.58,193.00 668.79,192.66 675.00,192.33"/>
<polyline points="54.20,500.53 60.41,500.49 66.62,500.40 72.82,500.27 79.03,500.10 85.24,499.91 91.45,499.71 97.66,499.52 103.86,499.33 110.07,499.17 116.28,499.02 122.49,498.88 128.70,498.75 134.90,498.61 141.11,498.46 147.32,498.29 153.53,498.09 159.74,497.86 165.94,497.59 172.15,497.25 178.36,496.83 184.57,496.28 190.78,495.56 196.98,494.64 203.19,493.49 209.40,492.07 215.61,490.36 221.82,488.41 228.02,486.24 234.23,483.82 240.44,480.91 246.65,477.04 252.86,471.62 259.06,464.42 265.27,455.91 271.48,446.84 277.69,437.54 283.90,427.71 290.10,416.93 296.31,405.13 302.52,392.80 308.73,380.79 314.94,369.73 321.14,359.54 327.35,349.65 333.56,339.55 339.77,329.35 345.98,319.63 352.18,311.02 358.39,303.69 364.60,297.40 370.81,291.71 377.02,286.23 383.22,280.69 389.43,275.09 395.64,269.63 401.85,264.53 408.06,259.86 414.26,255.59 420.47,251.67 426.68,248.10 432.89,244.91 439.10,242.16 445.30,239.81 451.51,237.78 457.72,235.95 463.93,234.23 470.14,232.55 476.34,230.87 482.55,229.18 488.76,227.53 494.97,225.99 501.18,224.60 507.38,223.37 513.59,222.25 519.80,221.21 526.01,220.20 532.22,219.21 538.42,218.21 544.63,217.19 550.84,216.15 557.05,215.10 563.26,214.05 569.46,213.01 575.67,212.00 581.88,211.03 588.09,210.10 594.30,209.25 600.50,208.46 606.71,207.76 612.92,207.13 619.13,206.56 625.34,206.04 631.54,205.55 637.75,205.09 643.96,204.67 650.17,204.28 656.38,203.95 662.58,203.65 668.79,203.40 675.00,203.18"/>
<polygon fill="#66a61e" points="54.20,500.53 60.41,500.49 66.62,500.40 72.82,500.27 79.03,500.10 85.24,499.91 91.45,499.71 97.66,499.52 103.86,499.33 110.07,499.17 116.28,499.02 122.49,498.88 128.70,498.75 134.90,498.61 141.11,498.46 147.32,498.29 153.53,498.09 159.74,497.86 165.94,497.59 172.15,497.25 178.36,496.83 184.57,496.28 190.78,495.56 196.98,494.64 203.19,493.50 209.40,492.09 215.61,490.40 221.82,488.43 228.02,486.21 234.23,483.65 240.44,480.50 246.65,476.24 252.86,470.37 259.06,462.79 265.27,454.07 271.48,445.00 277.69,435.81 283.90,426.12 290.10,415.41 296.31,403.51 302.52,390.83 308.73,378.23 314.94,366.40 321.14,355.42 327.35,344.95 333.56,334.73 339.77,324.76 345.98,315.26 352.18,306.51 358.39,298.81 364.60,292.27 370.81,286.66 377.02,281.34 383.22,275.83 389.43,270.13 395.64,264.62 401.85,259.62 408.06,255.19 414.26,251.23 420.47,247.65 426.68,244.40 432.89,241.47 439.10,238.87 439.10,232.33 432.89,235.71 426.68,239.49 420.47,243.66 414.26,248.18 408.06,253.03 401.85,258.22 395.64,263.76 389.43,269.54 383.22,275.33 377.02,280.82 370.81,286.05 364.60,291.47 358.39,297.69 352.18,305.06 345.98,313.56 339.77,322.96 333.56,332.87 327.35,342.87 321.14,352.73 314.94,362.58 308.73,372.86 302.52,383.93 296.31,395.75 290.10,407.81 283.90,419.46 277.69,430.30 271.48,440.37 265.27,450.03 259.06,459.38 252.86,467.87 246.65,474.75 240.44,479.79 234.23,483.41 228.02,486.18 221.82,488.48 215.61,490.45 209.40,492.12 203.19,493.50 196.98,494.63 190.78,495.55 184.57,496.27 178.36,496.83 172.15,497.25 165.94,497.59 159.74,497.86 153.53,498.09 147.32,498.29 141.11,498.46 134.90,498.61 128.70,498.75 122.49,498.88 116.28,499.02 110.07,499.17 103.86,499.33 97.66,499.52 91.45,499.71 85.24,499.91 79.03,500.10 72.82,500.27 66.62,500.40 60.41,500.49 54.20,500.53"/>
<polygon fill="#66a61e" points="426.68,248.10 432.89,244.91 439.10,242.16 445.30,239.81 451.51,237.78 457.72,235.95 463.93,234.23 470.14,232.55 476.34,230.87 482.55,229.18 488.76,227.53 494.97,225.99 501.18,224.60 507.38,223.37 513.59,222.25 519.80,221.21 526.01,220.20 532.22,219.21 538.42,218.21 544.63,217.19 550.84,216.15 557.05,215.10 563.26,214.05 569.46,213.01 575.67,212.00 581.88,211.03 588.09,210.10 594.30,209.25 600.50,208.46 606.71,207.76 612.92,207.13 619.13,206.56 625.34,206.04 631.54,205.55 637.75,205.09 643.96,204.67 650.17,204.28 656.38,203.95 662.58,203.65 668.79,203.40 675.00,203.18 675.00,198.31 668.79,198.58 662.58,198.88 656.38,199.19 650.17,199.54 643.96,199.92 637.75,200.33 631.54,200.76 625.34,201.21 619.13,201.69 612.92,202.20 606.71,202.73 600.50,203.31 594.30,203.93 588.09,204.58 581.88,205.28 575.67,206.01 569.46,206.78 563.26,207.59 557.05,208.42 550.84,209.29 544.63,210.19 538.42,211.14 532.22,212.15 526.01,213.23 519.80,214.37 513.59,215.57 507.38,216.79 501.18,218.04 494.97,219.30 488.76,220.61 482.55,222.01 476.34,223.57 470.14,225.31 463.93,227.20 457.72,229.20 451.51,231.30 445.30,233.55 439.10,236.08 432.89,238.96 426.68,242.24"/>
</g>
<polyline points="439.10,239.12 445.30,236.68 451.51,234.54 457.72,232.57 463.93,230.71 470.14,228.93 476.34,227.22 482.55,225.60 488.76,224.07 494.97,222.64 501.18,221.32 507.38,220.08 513.59,218.91 519.80,217.79 526.01,216.72 532.22,215.68 538.42,214.68 544.63,213.69 550.84,212.72 557.05,211.76 563.26,210.82 569.46,209.90 575.67,209.01 581.88,208.15 588.09,207.34 594.30,206.59 600.50,205.89 606.71,205.25 612.92,204.66 619.13,204.13 625.34,203.62 631.54,203.15 637.75,202.71 643.96,202.29 650.17,201.91 656.38,201.57 662.58,201.26 668.79,200.99 675.00,200.75" stroke="#fff" stroke-opacity="0.25" stroke-width="0.7"/>
<g stroke="#fff" stroke-width="3.5" fill="none">
<polygon fill="#fff" points="54.20,500.53 60.41,500.49 66.62,500.40 72.82,500.27 79.03,500.10 85.24,499.91 91.45,499.71 97.66,499.52 103.86,499.33 110.07,499.17 116.28,499.02 122.49,498.88 128.70,498.75 134.90,498.61 141.11,498.46 147.32,498.29 153.53,498.10 159.74,497.88 165.94,497.62 172.15,497.32 178.36,496.96 184.57,496.50 190.78,495.94 196.98,495.23 203.19,494.34 209.40,493.25 215.61,491.91 221.82,490.32 228.02,488.49 234.23,486.35 240.44,483.77 246.65,480.41 252.86,475.75 259.06,469.32 265.27,461.15 271.48,451.95 277.69,442.48 283.90,432.89 290.10,422.78 296.31,411.64 302.52,399.29 308.73,386.01 314.94,372.43 321.14,359.11 327.35,346.38 333.56,334.43 339.77,323.46 345.98,313.64 352.18,304.97 358.39,297.28 364.60,290.29 370.81,283.77 377.02,277.55 383.22,271.58 389.43,265.81 395.64,260.19 401.85,254.70 408.06,249.33 414.26,244.11 420.47,239.08 426.68,234.26 432.89,229.66 439.10,225.28 445.30,221.15 451.51,217.28 457.72,213.68 463.93,210.34 470.14,207.20 476.34,204.22 482.55,201.36 488.76,198.58 494.97,195.85 501.18,193.15 507.38,190.51 513.59,187.92 519.80,185.40 526.01,182.98 532.22,180.67 538.42,178.48 544.63,176.41 550.84,174.43 557.05,172.52 563.26,170.62 569.46,168.72 575.67,166.81 581.88,164.92 588.09,163.07 594.30,161.32 600.50,159.71 606.71,158.25 612.92,156.95 619.13,155.79 625.34,154.74 631.54,153.77 637.75,152.87 643.96,152.03 650.17,151.28 656.38,150.63 662.58,150.07 668.79,149.59 675.00,149.18 675.00,143.64 668.79,144.30 662.58,144.98 656.38,145.69 650.17,146.44 643.96,147.22 637.75,148.02 631.54,148.86 625.34,149.74 619.13,150.69 612.92,151.73 606.71,152.86 600.50,154.09 594.30,155.40 588.09,156.80 581.88,158.28 575.67,159.84 569.46,161.50 563.26,163.27 557.05,165.17 550.84,167.23 544.63,169.42 538.42,171.72 532.22,174.09 526.01,176.52 519.80,179.00 513.59,181.54 507.38,184.12 501.18,186.76 494.97,189.45 488.76,192.18 482.55,194.98 476.34,197.83 470.14,200.77 463.93,203.82 457.72,206.98 451.51,210.28 445.30,213.75 439.10,217.43 432.89,221.39 426.68,225.69 420.47,230.38 414.26,235.43 408.06,240.73 401.85,246.14 395.64,251.51 389.43,256.76 383.22,261.95 377.02,267.23 370.81,272.85 364.60,279.10 358.39,286.20 352.18,294.29 345.98,303.37 339.77,313.34 333.56,324.10 327.35,335.59 321.14,347.70 314.94,360.33 308.73,373.31 302.52,386.39 296.31,399.21 290.10,411.44 283.90,422.84 277.69,433.50 271.48,443.70 265.27,453.67 259.06,463.06 252.86,470.99 246.65,476.89 240.44,480.96 234.23,483.90 228.02,486.29 221.82,488.43 215.61,490.37 209.40,492.07 203.19,493.47 196.98,494.59 190.78,495.48 184.57,496.17 178.36,496.71 172.15,497.14 165.94,497.49 159.74,497.78 153.53,498.04 147.32,498.26 141.11,498.44 134.90,498.61 128.70,498.75 122.49,498.88 116.28,499.02 110.07,499.17 103.86,499.34 97.66,499.52 91.45,499.71 85.24,499.91 79.03,500.10 72.82,500.27 66.62,500.40 60.41,500.49 54.20,500.53"/>
</g>
<g stroke="#e6ab02" stroke-width="2.61" fill="none">
<polygon fill="#e6ab02" points="54.20,500.53 60.41,500.49 66.62,500.40 72.82,500.27 79.03,500.10 85.24,499.91 91.45,499.71 97.66,499.52 103.86,499.33 110.07,499.17 116.28,499.02 122.49,498.88 128.70,498.75 134.90,498.61 141.11,498.46 147.32,498.29 153.53,498.10 159.74,497.88 165.94,497.62 172.15,497.32 178.36,496.96 184.57,496.50 190.78,495.94 196.98,495.23 203.19,494.34 209.40,493.25 215.61,491.91 221.82,490.32 228.02,488.49 234.23,486.35 240.44,483.77 246.65,480.41 252.86,475.75 259.06,469.32 265.27,461.15 271.48,451.95 277.69,442.48 283.90,432.89 290.10,422.78 296.31,411.64 302.52,399.29 308.73,386.01 314.94,372.43 321.14,359.11 327.35,346.38 333.56,334.43 339.77,323.46 345.98,313.64 352.18,304.97 358.39,297.28 364.60,290.29 370.81,283.77 377.02,277.55 383.22,271.58 389.43,265.81 395.64,260.19 401.85,254.70 408.06,249.33 414.26,244.11 420.47,239.08 426.68,234.26 432.89,229.66 439.10,225.28 445.30,221.15 451.51,217.28 457.72,213.68 463.93,210.34 470.14,207.20 476.34,204.22 482.55,201.36 488.76,198.58 494.97,195.85 501.18,193.15 507.38,190.51 513.59,187.92 519.80,185.40 526.01,182.98 532.22,180.67 538.42,178.48 544.63,176.41 550.84,174.43 557.05,172.52 563.26,170.62 569.46,168.72 575.67,166.81 581.88,164.92 588.09,163.07 594.30,161.32 600.50,159.71 606.71,158.25 612.92,156.95 619.13,155.79 625.34,154.74 631.54,153.77 637.75,152.87 643.96,152.03 650.17,151.28 656.38,150.63 662.58,150.07 668.79,149.59 675.00,149.18 675.00,143.64 668.79,144.30 662.58,144.98 656.38,145.69 650.17,146.44 643.96,147.22 637.75,148.02 631.54,148.86 625.34,149.74 619.13,150.69 612.92,151.73 606.71,152.86 600.50,154.09 594.30,155.40 588.09,156.80 581.88,158.28 575.67,159.84 569.46,161.50 563.26,163.27 557.05,165.17 550.84,167.23 544.63,169.42 538.42,171.72 532.22,174.09 526.01,176.52 519.80,179.00 513.59,181.54 507.38,184.12 501.18,186.76 494.97,189.45 488.76,192.18 482.55,194.98 476.34,197.83 470.14,200.77 463.93,203.82 457.72,206.98 451.51,210.28 445.30,213.75 439.10,217.43 432.89,221.39 426.68,225.69 420.47,230.38 414.26,235.43 408.06,240.73 401.85,246.14 395.64,251.51 389.43,256.76 383.22,261.95 377.02,267.23 370.81,272.85 364.60,279.10 358.39,286.20 352.18,294.29 345.98,303.37 339.77,313.34 333.56,324.10 327.35,335.59 321.14,347.70 314.94,360.33 308.73,373.31 302.52,386.39 296.31,399.21 290.10,411.44 283.90,422.84 277.69,433.50 271.48,443.70 265.27,453.67 259.06,463.06 252.86,470.99 246.65,476.89 240.44,480.96 234.23,483.90 228.02,486.29 221.82,488.43 215.61,490.37 209.40,492.07 203.19,493.47 196.98,494.59 190.78,495.48 184.57,496.17 178.36,496.71 172.15,497.14 165.94,497.49 159.74,497.78 153.53,498.04 147.32,498.26 141.11,498.44 134.90,498.61 128.70,498.75 122.49,498.88 116.28,499.02 110.07,499.17 103.86,499.34 97.66,499.52 91.45,499.71 85.24,499.91 79.03,500.10 72.82,500.27 66.62,500.40 60.41,500.49 54.20,500.53"/>
</g>
<polyline points="389.43,260.38 395.64,254.98 401.85,249.57 408.06,244.17 414.26,238.90 420.47,233.86 426.68,229.12 432.89,224.70 439.10,220.57 445.30,216.71 451.51,213.08 457.72,209.66 463.93,206.42 470.14,203.34 476.34,200.39 482.55,197.53 488.76,194.74 494.97,192.01 501.18,189.32 507.38,186.68 513.59,184.09 519.80,181.56 526.01,179.10 532.22,176.72 538.42,174.42 544.63,172.22 550.84,170.11 557.05,168.11 563.26,166.21 569.46,164.39 575.67,162.63 581.88,160.93 588.09,159.31 594.30,157.77 600.50,156.33 606.71,155.02 612.92,153.82 619.13,152.73 625.34,151.74 631.54,150.83 637.75,149.96 643.96,149.14 650.17,148.38 656.38,147.67 662.58,147.02 668.79,146.42 675.00,145.86" stroke="#fff" stroke-opacity="0.25" stroke-width="0.7"/>
<g stroke="#fff" stroke-width="3.0" fill="none">
<polygon fill="#fff" points="54.20,500.53 60.41,500.50 66.62,500.43 72.82,500.31 79.03,500.16 85.24,500.00 91.45,499.83 97.66,499.67 103.86,499.53 110.07,499.39 116.28,499.25 122.49,499.11 128.70,498.93 134.90,498.74 141.11,498.54 147.32,498.35 153.53,498.16 159.74,497.96 165.94,497.72 172.15,497.40 178.36,496.94 184.57,496.28 190.78,495.38 196.98,494.23 203.19,492.85 209.40,491.20 215.61,489.28 221.82,487.07 228.02,484.54 234.23,481.52 240.44,477.62 246.65,472.29 252.86,465.19 259.06,456.56 265.27,447.00 271.48,436.91 277.69,426.27 283.90,414.98 290.10,403.15 296.31,391.05 302.52,379.03 308.73,367.33 314.94,356.02 321.14,345.07 327.35,334.53 333.56,324.56 339.77,315.43 345.98,307.23 352.18,299.87 358.39,293.14 364.60,286.81 370.81,280.72 377.02,274.84 383.22,269.19 389.43,263.82 395.64,258.76 401.85,254.01 408.06,249.55 414.26,245.31 420.47,241.27 426.68,237.38 432.89,233.65 439.10,230.06 445.30,226.64 451.51,223.41 457.72,220.38 463.93,217.52 470.14,214.82 476.34,212.24 482.55,209.74 488.76,207.31 494.97,204.93 501.18,202.59 507.38,200.30 513.59,198.04 519.80,195.81 526.01,193.59 532.22,191.36 538.42,189.11 544.63,186.85 550.84,184.58 557.05,182.32 563.26,180.08 569.46,177.85 575.67,175.63 581.88,173.44 588.09,171.28 594.30,169.17 600.50,167.13 606.71,165.17 612.92,163.30 619.13,161.50 625.34,159.77 631.54,158.10 637.75,156.48 643.96,154.92 650.17,153.42 656.38,151.97 662.58,150.59 668.79,149.25 675.00,147.95 675.00,141.29 668.79,142.71 662.58,144.16 656.38,145.64 650.17,147.18 643.96,148.77 637.75,150.41 631.54,152.09 625.34,153.83 619.13,155.61 612.92,157.45 606.71,159.35 600.50,161.33 594.30,163.37 588.09,165.46 581.88,167.61 575.67,169.78 569.46,171.99 563.26,174.22 557.05,176.47 550.84,178.75 544.63,181.06 538.42,183.38 532.22,185.70 526.01,188.02 519.80,190.34 513.59,192.68 507.38,195.03 501.18,197.40 494.97,199.80 488.76,202.21 482.55,204.65 476.34,207.13 470.14,209.68 463.93,212.34 457.72,215.15 451.51,218.14 445.30,221.32 439.10,224.70 432.89,228.27 426.68,232.04 420.47,236.01 414.26,240.18 408.06,244.54 401.85,249.08 395.64,253.79 389.43,258.65 383.22,263.70 377.02,268.99 370.81,274.61 364.60,280.66 358.39,287.23 352.18,294.37 345.98,302.08 339.77,310.36 333.56,319.21 327.35,328.70 321.14,338.91 314.94,349.88 308.73,361.42 302.52,373.20 296.31,384.88 290.10,396.38 283.90,407.77 277.69,419.07 271.48,430.09 265.27,440.51 259.06,450.12 252.86,458.77 246.65,466.28 240.44,472.49 234.23,477.44 228.02,481.39 221.82,484.62 215.61,487.28 209.40,489.42 203.19,491.06 196.98,492.30 190.78,493.24 184.57,494.01 178.36,494.70 172.15,495.33 165.94,495.93 159.74,496.50 153.53,497.02 147.32,497.50 141.11,497.91 134.90,498.28 128.70,498.59 122.49,498.84 116.28,499.04 110.07,499.22 103.86,499.39 97.66,499.57 91.45,499.75 85.24,499.94 79.03,500.12 72.82,500.28 66.62,500.41 60.41,500.50 54.20,500.53"/>
</g>
<g stroke="#a6761d" stroke-width="2.61" fill="none">
<polygon fill="#a6761d" points="54.20,500.53 60.41,500.50 66.62,500.43 72.82,500.31 79.03,500.16 85.24,500.00 91.45,499.83 97.66,499.67 103.86,499.53 110.07,499.39 116.28,499.25 122.49,499.11 128.70,498.93 134.90,498.74 141.11,498.54 147.32,498.35 153.53,498.16 159.74,497.96 165.94,497.72 172.15,497.40 178.36,496.94 184.57,496.28 190.78,495.38 196.98,494.23 203.19,492.85 209.40,491.20 215.61,489.28 221.82,487.07 228.02,484.54 234.23,481.52 240.44,477.62 246.65,472.29 252.86,465.19 259.06,456.56 265.27,447.00 271.48,436.91 277.69,426.27 283.90,414.98 290.10,403.15 296.31,391.05 302.52,379.03 308.73,367.33 314.94,356.02 321.14,345.07 327.35,334.53 333.56,324.56 339.77,315.43 345.98,307.23 352.18,299.87 358.39,293.14 364.60,286.81 370.81,280.72 377.02,274.84 383.22,269.19 389.43,263.82 395.64,258.76 401.85,254.01 408.06,249.55 414.26,245.31 420.47,241.27 426.68,237.38 432.89,233.65 439.10,230.06 445.30,226.64 451.51,223.41 457.72,220.38 463.93,217.52 470.14,214.82 476.34,212.24 482.55,209.74 488.76,207.31 494.97,204.93 501.18,202.59 507.38,200.30 513.59,198.04 519.80,195.81 526.01,193.59 532.22,191.36 538.42,189.11 544.63,186.85 550.84,184.58 557.05,182.32 563.26,180.08 569.46,177.85 575.67,175.63 581.88,173.44 588.09,171.28 594.30,169.17 600.50,167.13 606.71,165.17 612.92,163.30 619.13,161.50 625.34,159.77 631.54,158.10 637.75,156.48 643.96,154.92 650.17,153.42 656.38,151.97 662.58,150.59 668.79,149.25 675.00,147.95 675.00,141.29 668.79,142.71 662.58,144.16 656.38,145.64 650.17,147.18 643.96,148.77 637.75,150.41 631.54,152.09 625.34,153.83 619.13,155.61 612.92,157.45 606.71,159.35 600.50,161.33 594.30,163.37 588.09,165.46 581.88,167.61 575.67,169.78 569.46,171.99 563.26,174.22 557.05,176.47 550.84,178.75 544.63,181.06 538.42,183.38 532.22,185.70 526.01,188.02 519.80,190.34 513.59,192.68 507.38,195.03 501.18,197.40 494.97,199.80 488.76,202.21 482.55,204.65 476.34,207.13 470.14,209.68 463.93,212.34 457.72,215.15 451.51,218.14 445.30,221.32 439.10,224.70 432.89,228.27 426.68,232.04 420.47,236.01 414.26,240.18 408.06,244.54 401.85,249.08 395.64,253.79 389.43,258.65 383.22,263.70 377.02,268.99 370.81,274.61 364.60,280.66 358.39,287.23 352.18,294.37 345.98,302.08 339.77,310.36 333.56,319.21 327.35,328.70 321.14,338.91 314.94,349.88 308.73,361.42 302.52,373.20 296.31,384.88 290.10,396.38 283.90,407.77 277.69,419.07 271.48,430.09 265.27,440.51 259.06,450.12 252.86,458.77 246.65,466.28 240.44,472.49 234.23,477.44 228.02,481.39 221.82,484.62 215.61,487.28 209.40,489.42 203.19,491.06 196.98,492.30 190.78,493.24 184.57,494.01 178.36,494.70 172.15,495.33 165.94,495.93 159.74,496.50 153.53,497.02 147.32,497.50 141.11,497.91 134.90,498.28 128.70,498.59 122.49,498.84 116.28,499.04 110.07,499.22 103.86,499.39 97.66,499.57 91.45,499.75 85.24,499.94 79.03,500.12 72.82,500.28 66.62,500.41 60.41,500.50 54.20,500.53"/>
</g>
<polyline points="563.26,178.79 569.46,176.56 575.67,174.34 581.88,172.15 588.09,170.00 594.30,167.89 600.50,165.85 606.71,163.89 612.92,162.01 619.13,160.20 625.34,158.46 631.54,156.78 637.75,155.15 643.96,153.57 650.17,152.05" stroke="#fff" stroke-opacity="0.25" stroke-width="0.7"/>
<polyline points="228.02,485.42 234.23,482.71 240.44,479.29 246.65,474.59 252.86,468.09 259.06,459.81 265.27,450.33 271.48,440.30 277.69,429.88 283.90,418.91 290.10,407.29 296.31,395.13 302.52,382.71 308.73,370.32 314.94,358.17" stroke="#66a61e" stroke-width="1.1"/>
</g>
<rect x="54.2" y="37.0" width="620.8" height="462.3" fill="none" stroke="#fff" stroke-width="1.74"/>
<path d="M54.20,499.3v6.08M178.36,499.3v6.08M302.52,499.3v6.08M426.68,499.3v6.08M550.84,499.3v6.08M675.00,499.3v6.08M54.2,499.30h-6.08M54.2,437.66h-6.08M54.2,376.02h-6.08M54.2,314.38h-6.08M54.2,252.74h-6.08M54.2,191.10h-6.08M54.2,129.46h-6.08M54.2,67.82h-6.08" stroke="#555" stroke-width="1.39" fill="none"/>
<g font-size="17.375" fill="#555">
<text x="54.20" y="525.3" text-anchor="middle">0</text>
<text x="178.36" y="525.3" text-anchor="middle">10</text>
<text x="302.52" y="525.3" text-anchor="middle">20</text>
<text x="426.68" y="525.3" text-anchor="middle">30</text>
<text x="550.84" y="525.3" text-anchor="middle">40</text>
<text x="675.00" y="525.3" text-anchor="middle">50</text>
<text x="43.0" y="505.90" text-anchor="end">0</text>
<text x="43.0" y="444.26" text-anchor="end">1</text>
<text x="43.0" y="382.62" text-anchor="end">2</text>
<text x="43.0" y="320.98" text-anchor="end">3</text>
<text x="43.0" y="259.34" text-anchor="end">4</text>
<text x="43.0" y="197.70" text-anchor="end">5</text>
<text x="43.0" y="136.06" text-anchor="end">6</text>
<text x="43.0" y="74.42" text-anchor="end">7</text>
</g>
<text x="364.60" y="553.3" font-size="24.325" fill="#555" text-anchor="middle">Cycle</text>
<text transform="translate(19.1,268.15) rotate(-90)" font-size="24.325" fill="#555" text-anchor="middle">Scaled Intensity</text>
<text x="364.60" y="25.7" font-size="34.750" fill="#000" text-anchor="middle">Spiked Nasopharyngeal Samples</text>
<rect x="64.3" y="47.3" width="275.9" height="218.9" rx="3.5" fill="#e5e5e5" stroke="#d3d3d3" stroke-width="1.3"/>
<g font-size="21.000" fill="#000">
<path d="M72.5,64.40H116.2" stroke="#a6761d" stroke-width="2.61"/>
<text x="131.9" y="71.70">InfA + InfB + RSVA</text>
<path d="M72.5,94.80H116.2" stroke="#e6ab02" stroke-width="2.61"/>
<text x="131.9" y="102.10">InfB + RSVA</text>
<path d="M72.5,125.20H116.2" stroke="#66a61e" stroke-width="2.61"/>
<text x="131.9" y="132.50">InfA + RSVA</text>
<path d="M72.5,155.60H116.2" stroke="#e7298a" stroke-width="2.61"/>
<text x="131.9" y="162.90">RSVA</text>
<path d="M72.5,186.00H116.2" stroke="#7570b3" stroke-width="2.61"/>
<text x="131.9" y="193.30">InfA + InfB</text>
<path d="M72.5,216.40H116.2" stroke="#d95f02" stroke-width="2.61"/>
<text x="131.9" y="223.70">InfB</text>
<path d="M72.5,246.80H116.2" stroke="#1b9e77" stroke-width="2.61"/>
<text x="131.9" y="254.10">InfA</text>
</g>
</svg>
</body></html>
